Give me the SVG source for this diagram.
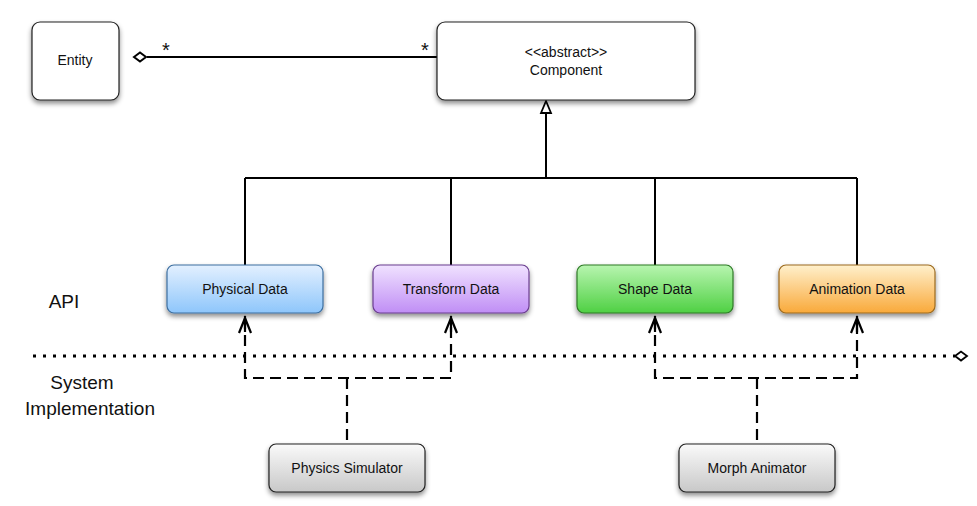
<svg xmlns="http://www.w3.org/2000/svg" width="977" height="506" viewBox="0 0 977 506">
<style>
text{font-family:"Liberation Sans",Arial,sans-serif;fill:#111;text-anchor:middle}
.n{font-size:14px}
.l{font-size:19px}
.box{stroke:#222;stroke-width:1.2}
.c{stroke:#000;stroke-width:2;fill:none}
.d{stroke:#000;stroke-width:2.2;fill:none;stroke-dasharray:11,6}
.ah{stroke:#000;stroke-width:2.2;fill:none}
</style>
<defs>
<filter id="sh" x="-10%" y="-10%" width="130%" height="140%"><feDropShadow dx="0" dy="3" stdDeviation="2.5" flood-color="#000" flood-opacity="0.45"/></filter>
<linearGradient id="gb" x1="0" y1="0" x2="0" y2="1"><stop offset="0" stop-color="#e3f0ff"/><stop offset="1" stop-color="#8ec6fb"/></linearGradient>
<linearGradient id="gp" x1="0" y1="0" x2="0" y2="1"><stop offset="0" stop-color="#f0e2ff"/><stop offset="1" stop-color="#c08ef5"/></linearGradient>
<linearGradient id="gg" x1="0" y1="0" x2="0" y2="1"><stop offset="0" stop-color="#b8f5b0"/><stop offset="1" stop-color="#4fd043"/></linearGradient>
<linearGradient id="go" x1="0" y1="0" x2="0" y2="1"><stop offset="0" stop-color="#fff0cc"/><stop offset="1" stop-color="#f9a93a"/></linearGradient>
<linearGradient id="gw" x1="0" y1="0" x2="0" y2="1"><stop offset="0" stop-color="#fafafa"/><stop offset="1" stop-color="#c8c8c8"/></linearGradient>
</defs>
<g id="connectors">
<line x1="147" y1="57" x2="437" y2="57" class="c"/>
<path d="M134,57 l6,-4.5 l6,4.5 l-6,4.5z" fill="#fff" stroke="#000" stroke-width="2"/>
<text x="166" y="57" style="font-size:20px">*</text>
<text x="425" y="57" style="font-size:20px">*</text>
<path d="M546,113 V178 M245,178 H857 M245,178 V265 M451,178 V265 M655,178 V265 M857,178 V265" class="c"/>
<path d="M546,101 l-5,12 h10z" fill="#fff" stroke="#000" stroke-width="1.8"/>
<line x1="33" y1="356" x2="955" y2="356" stroke="#000" stroke-width="3" stroke-dasharray="3,7"/>
<path d="M955,356 l6,-4.5 l6,4.5 l-6,4.5z" fill="#fff" stroke="#000" stroke-width="1.8"/>
<path d="M245,318 V378 H451 V318 M347,378 V444" class="d"/>
<path d="M655,318 V378 H857 V318 M757,378 V444" class="d"/>
<path d="M245,316 V332 M239,333 L245,318 L251,333" class="ah"/>
<path d="M451,316 V332 M445,333 L451,318 L457,333" class="ah"/>
<path d="M655,316 V332 M649,333 L655,318 L661,333" class="ah"/>
<path d="M857,316 V332 M851,333 L857,318 L863,333" class="ah"/>
</g>
<g id="entity"><rect x="32" y="22" width="87" height="78" rx="8" fill="#fff" class="box" filter="url(#sh)"/><text x="75" y="65" class="n">Entity</text></g>
<g id="component"><rect x="437" y="22" width="258" height="78" rx="8" fill="#fff" class="box" filter="url(#sh)"/><text x="566" y="57" class="n">&lt;&lt;abstract&gt;&gt;</text><text x="566" y="75" class="n">Component</text></g>
<g id="physical"><rect x="167" y="265" width="156" height="48" rx="7" fill="url(#gb)" stroke="#3d6fa0" stroke-width="1.2" filter="url(#sh)"/><text x="245" y="294" class="n">Physical Data</text></g>
<g id="transform"><rect x="373" y="265" width="156" height="48" rx="7" fill="url(#gp)" stroke="#6a3e8f" stroke-width="1.2" filter="url(#sh)"/><text x="451" y="294" class="n">Transform Data</text></g>
<g id="shape"><rect x="577" y="265" width="156" height="48" rx="7" fill="url(#gg)" stroke="#2f7a27" stroke-width="1.2" filter="url(#sh)"/><text x="655" y="294" class="n">Shape Data</text></g>
<g id="animation"><rect x="779" y="265" width="156" height="48" rx="7" fill="url(#go)" stroke="#9c6a1e" stroke-width="1.2" filter="url(#sh)"/><text x="857" y="294" class="n">Animation Data</text></g>
<g id="physics"><rect x="269" y="444" width="156" height="48" rx="7" fill="url(#gw)" class="box" filter="url(#sh)"/><text x="347" y="473" class="n">Physics Simulator</text></g>
<g id="morph"><rect x="679" y="444" width="156" height="48" rx="7" fill="url(#gw)" class="box" filter="url(#sh)"/><text x="757" y="473" class="n">Morph Animator</text></g>
<text x="64" y="308" class="l">API</text>
<text x="82" y="389" class="l">System</text>
<text x="90" y="415" class="l">Implementation</text>
</svg>
